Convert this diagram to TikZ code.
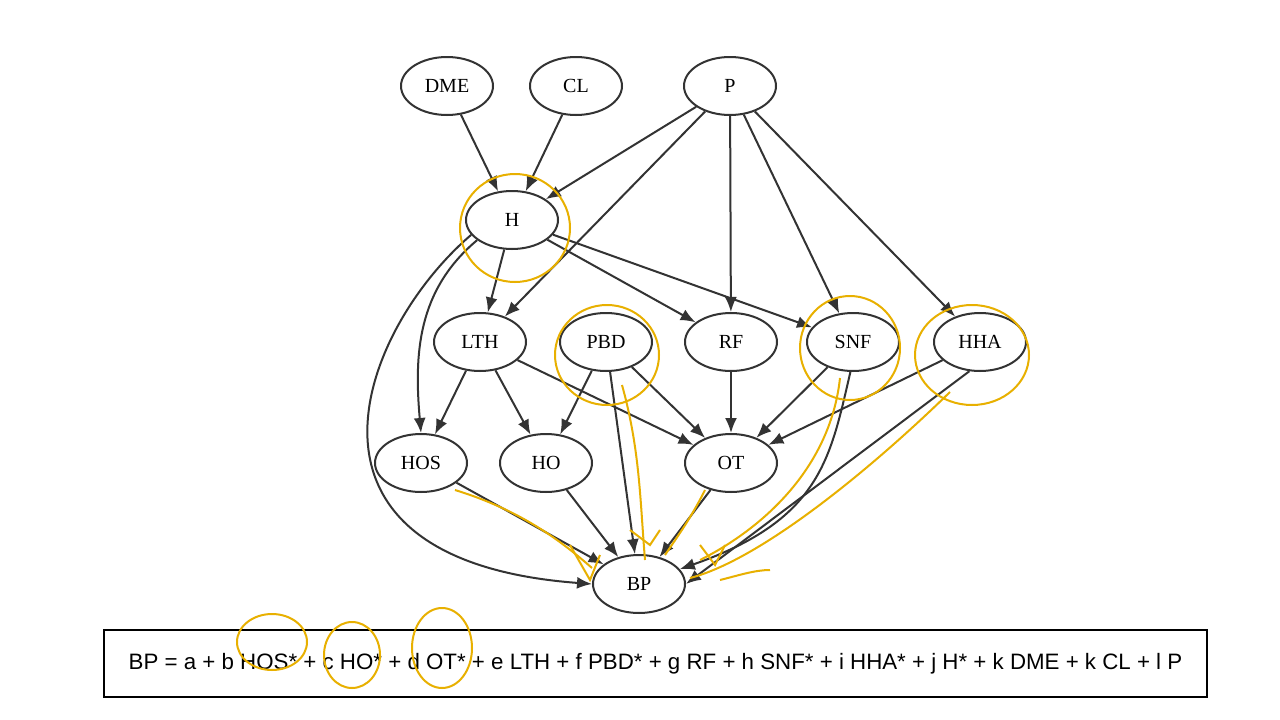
\documentclass[tikz,border=0pt]{standalone}
\usepackage{fontspec}
\setmainfont{Liberation Serif}
\newfontfamily\formfont{Liberation Sans}
\usetikzlibrary{shapes.geometric,arrows.meta}
\definecolor{ann}{HTML}{E8B000}
\begin{document}
\begin{tikzpicture}[x=1pt,y=-1pt,
  nd/.style={ellipse,draw=black!80,line width=2pt,minimum width=92pt,minimum height=58pt,inner sep=0pt,font=\fontsize{20}{22}\selectfont},
  ed/.style={-{Latex[length=15pt,width=12pt]},line width=2pt,draw=black!80},
  yl/.style={draw=ann,line width=2pt}]
\useasboundingbox[fill=white] (0,0) rectangle (1280,720);
\node[nd] (DME) at (447,86) {DME};
\node[nd] (CL) at (576,86) {CL};
\node[nd] (P) at (730,86) {P};
\node[nd] (H) at (512,220) {H};
\node[nd] (LTH) at (480,342) {LTH};
\node[nd] (PBD) at (606,342) {PBD};
\node[nd] (RF) at (731,342) {RF};
\node[nd] (SNF) at (853,342) {SNF};
\node[nd] (HHA) at (980,342) {HHA};
\node[nd] (HOS) at (421,463) {HOS};
\node[nd] (HO) at (546,463) {HO};
\node[nd] (OT) at (731,463) {OT};
\node[nd] (BP) at (639,584) {BP};
\draw[ed] (DME) -- (H);
\draw[ed] (CL) -- (H);
\draw[ed] (P) -- (H);
\draw[ed] (P) -- (LTH);
\draw[ed] (P) -- (RF);
\draw[ed] (P) -- (SNF);
\draw[ed] (P) -- (HHA);
\draw[ed] (H) -- (LTH);
\draw[ed] (H) -- (RF);
\draw[ed] (H) -- (SNF);
\draw[ed] (H.210) to[out=220,in=95] (HOS.north);
\draw[ed] (H.200) .. controls (360,330) and (270,560) .. (BP.west);
\draw[ed] (LTH) -- (HOS);
\draw[ed] (LTH) -- (HO);
\draw[ed] (LTH) -- (OT);
\draw[ed] (PBD) -- (HO);
\draw[ed] (PBD) -- (OT);
\draw[ed] (PBD) -- (BP);
\draw[ed] (RF) -- (OT);
\draw[ed] (SNF) -- (OT);
\draw[ed] (SNF.265) .. controls (830,460) and (820,520) .. (BP.20);
\draw[ed] (HHA) -- (OT);
\draw[ed] (HHA.250) -- (BP.east);
\draw[ed] (HOS) -- (BP);
\draw[ed] (HO) -- (BP);
\draw[ed] (OT) -- (BP);
\node[draw=black,line width=1.2pt,minimum width=1103pt,minimum height=67pt,font=\formfont\fontsize{22.3}{24}\selectfont] (F) at (655.5,663.5)
 {BP = a + b HOS* + c HO* + d OT* + e LTH + f PBD* + g RF + h SNF* + i HHA* + j H* + k DME + k CL + l P};
% annotations
\draw[yl] (515,228) ellipse (55pt and 54pt);
\draw[yl] (607,355) ellipse (52pt and 50pt);
\draw[yl] (850,348) ellipse (50pt and 52pt);
\draw[yl] (972,355) ellipse (57pt and 50pt);
\draw[yl] (272,642) ellipse (35pt and 28pt);
\draw[yl] (352,655) ellipse (28pt and 33pt);
\draw[yl] (442,648) ellipse (30pt and 40pt);
\draw[yl] (455,490) .. controls (520,510) and (560,540) .. (592,568);
\draw[yl] (622,385) .. controls (640,450) and (640,500) .. (645,560);
\draw[yl] (840,378) .. controls (830,470) and (760,530) .. (700,560);
\draw[yl] (950,392) .. controls (870,470) and (760,560) .. (690,578);
\draw[yl] (705,490) .. controls (690,520) and (675,540) .. (665,555);
\draw[yl] (570,545) -- (590,580) -- (600,555);
\draw[yl] (630,530) -- (650,545) -- (660,530);
\draw[yl] (700,545) -- (715,565) -- (725,545);
\draw[yl] (720,580) .. controls (740,575) and (755,570) .. (770,570);
\end{tikzpicture}
\end{document}
